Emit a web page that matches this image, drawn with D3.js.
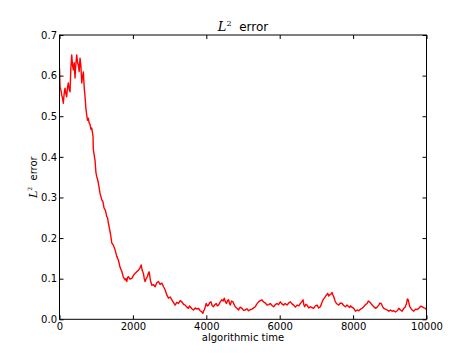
<!DOCTYPE html>
<html><head><meta charset="utf-8">
<script src="https://cdn.jsdelivr.net/npm/d3@7"></script>
<style>body{margin:0;background:#fff}svg{display:block}text{font-family:"DejaVu Sans",sans-serif}</style>
</head><body>
<svg id="c" width="474" height="355"></svg>
<script>
const times = [0,7,14,37,60,82,104,127,150,173,196,218,240,263,287,310,333,355,377,400,423,446,469,491,513,536,559,582,606,628,650,673,696,719,742,764,786,809,832,855,879,914,918,922,945,969,992,1015,1037,1059,1105,1152,1183,1214,1250,1288,1310,1332,1345,1359,1390,1424,1470,1514,1560,1604,1650,1697,1740,1787,1810,1833,1855,1877,1920,1970,2015,2060,2105,2150,2190,2224,2255,2287,2310,2333,2365,2396,2420,2442,2480,2516,2560,2606,2650,2696,2740,2789,2835,2879,2925,2969,3015,3062,3107,3152,3197,3242,3290,3334,3380,3425,3470,3515,3540,3561,3605,3651,3700,3744,3790,3834,3870,3907,3925,3943,3970,3998,4030,4060,4095,4126,4160,4197,4235,4270,4300,4333,4380,4426,4460,4489,4520,4549,4580,4606,4630,4652,4690,4726,4760,4789,4835,4879,4925,4972,5015,5062,5105,5152,5200,5245,5290,5335,5380,5425,5470,5517,5540,5561,5610,5654,5700,5744,5790,5834,5880,5927,5970,6017,6060,6107,6150,6200,6245,6290,6335,6380,6425,6473,6520,6563,6600,6636,6658,6680,6710,6745,6790,6836,6880,6926,6970,7018,7060,7108,7145,7182,7215,7245,7275,7308,7335,7362,7395,7428,7450,7471,7510,7545,7575,7607,7655,7700,7745,7790,7835,7881,7905,7927,7970,8017,8065,8110,8155,8200,8245,8290,8335,8383,8415,8445,8480,8519,8565,8609,8655,8699,8730,8765,8800,8836,8880,8928,8975,9018,9065,9108,9155,9201,9225,9245,9270,9291,9335,9381,9420,9455,9480,9502,9525,9545,9580,9611,9655,9701,9745,9791,9840,9884,9930,9974,10000];
const errors = [0.618,0.600,0.573,0.565,0.552,0.545,0.532,0.555,0.569,0.556,0.548,0.571,0.582,0.566,0.560,0.620,0.651,0.625,0.614,0.632,0.594,0.628,0.651,0.633,0.626,0.610,0.643,0.625,0.582,0.598,0.609,0.571,0.548,0.520,0.503,0.490,0.495,0.483,0.480,0.468,0.471,0.450,0.430,0.417,0.405,0.390,0.362,0.351,0.345,0.335,0.310,0.294,0.290,0.274,0.268,0.253,0.250,0.237,0.232,0.224,0.210,0.188,0.182,0.171,0.155,0.146,0.128,0.118,0.104,0.097,0.100,0.093,0.103,0.105,0.099,0.101,0.108,0.113,0.117,0.121,0.126,0.134,0.120,0.113,0.100,0.093,0.101,0.105,0.113,0.117,0.095,0.084,0.085,0.080,0.090,0.093,0.086,0.089,0.080,0.072,0.060,0.052,0.055,0.048,0.041,0.035,0.042,0.039,0.046,0.043,0.037,0.035,0.030,0.027,0.033,0.031,0.026,0.023,0.028,0.025,0.027,0.021,0.019,0.015,0.020,0.023,0.030,0.039,0.033,0.035,0.041,0.043,0.034,0.031,0.036,0.039,0.033,0.035,0.043,0.048,0.045,0.052,0.043,0.039,0.046,0.048,0.040,0.035,0.045,0.043,0.036,0.031,0.027,0.023,0.030,0.027,0.022,0.023,0.026,0.021,0.024,0.025,0.028,0.031,0.038,0.043,0.046,0.048,0.045,0.043,0.040,0.035,0.036,0.039,0.034,0.031,0.036,0.039,0.036,0.043,0.038,0.035,0.039,0.035,0.040,0.043,0.038,0.035,0.030,0.035,0.033,0.039,0.043,0.048,0.036,0.031,0.037,0.035,0.028,0.031,0.029,0.027,0.033,0.035,0.028,0.031,0.040,0.048,0.052,0.056,0.060,0.064,0.057,0.060,0.062,0.066,0.060,0.056,0.045,0.039,0.037,0.035,0.040,0.039,0.034,0.031,0.035,0.031,0.029,0.033,0.030,0.027,0.020,0.023,0.021,0.025,0.027,0.031,0.036,0.039,0.045,0.043,0.040,0.035,0.031,0.027,0.030,0.035,0.040,0.039,0.032,0.027,0.025,0.023,0.020,0.023,0.020,0.021,0.018,0.021,0.024,0.027,0.025,0.023,0.020,0.027,0.030,0.039,0.050,0.048,0.038,0.031,0.026,0.023,0.020,0.025,0.024,0.027,0.032,0.031,0.028,0.027,0.023];
const xTicks = [0,2000,4000,6000,8000,10000];
const yTicks = [0.0,0.1,0.2,0.3,0.4,0.5,0.6,0.7];

const svg = d3.select("#c");
const L = 59.5, R = 426.5, T = 35, B = 319.3;
const x = d3.scaleLinear().domain([0,10000]).range([L,R]);
const y = d3.scaleLinear().domain([0,0.7]).range([B,T]);
const data = times.map((t,i)=>[t,errors[i]]);

svg.append("clipPath").attr("id","cp").append("rect")
  .attr("x",L).attr("y",T).attr("width",R-L).attr("height",B-T);

svg.append("path").datum(data)
  .attr("clip-path","url(#cp)")
  .attr("fill","none").attr("stroke","#ff0000").attr("stroke-width",1.4)
  .attr("stroke-linejoin","round")
  .attr("d", d3.line().x(d=>x(d[0])).y(d=>y(d[1])));

const fmtY = d3.format(".1f");
const ax = (g)=>{g.selectAll(".domain").remove();g.selectAll("text").attr("font-family","DejaVu Sans").attr("font-size",10).attr("fill","#000");g.selectAll("line").attr("stroke","#000");};
svg.append("g").attr("transform",`translate(0,${B})`)
  .call(d3.axisBottom(x).tickValues(xTicks).tickFormat(d3.format("d")).tickSizeInner(-4).tickSizeOuter(0).tickPadding(3.4)).call(ax);
svg.append("g").attr("transform",`translate(0,${T})`)
  .call(d3.axisTop(x).tickValues(xTicks).tickFormat("").tickSizeInner(-4).tickSizeOuter(0)).call(ax);
svg.append("g").attr("transform",`translate(${L},0)`)
  .call(d3.axisLeft(y).tickValues(yTicks).tickFormat(fmtY).tickSizeInner(-4).tickSizeOuter(0).tickPadding(2.5)).call(ax);
svg.append("g").attr("transform",`translate(${R},0)`)
  .call(d3.axisRight(y).tickValues(yTicks).tickFormat("").tickSizeInner(-4).tickSizeOuter(0)).call(ax);

svg.append("rect").attr("x",L).attr("y",T).attr("width",R-L).attr("height",B-T)
  .attr("fill","none").attr("stroke","#000").attr("stroke-width",1);

function lab(sel, big){
  sel.append("tspan").attr("font-family","DejaVu Serif").attr("font-style","italic").attr("font-size",big+1).text("L");
  sel.append("tspan").attr("font-family","DejaVu Serif").attr("font-size",big-4).attr("dy",-5).text("2");
  sel.append("tspan").attr("dy",5).text("\u00a0\u00a0error");
}
const title = svg.append("text").attr("x",(L+R)/2).attr("y",31).attr("text-anchor","middle").attr("font-size",12);
lab(title, 12);
svg.append("text").attr("x",(L+R)/2).attr("y",341).attr("text-anchor","middle").attr("font-size",10).text("algorithmic time");
const yl = svg.append("text").attr("transform",`translate(36.5,${(T+B)/2}) rotate(-90)`).attr("text-anchor","middle").attr("font-size",10);
lab(yl, 10);
</script>
</body></html>
